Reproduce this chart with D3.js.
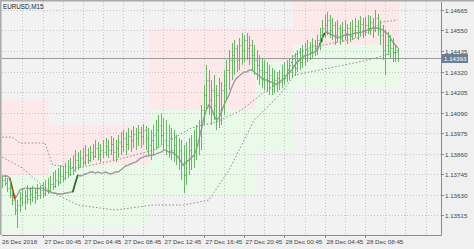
<!DOCTYPE html>
<html><head><meta charset="utf-8">
<script src="https://cdn.jsdelivr.net/npm/d3@7/dist/d3.min.js"></script>
<style>html,body{margin:0;padding:0;background:#f0f0f0;}svg{display:block;}</style>
</head><body>
<svg id="c" width="474" height="249"></svg>
<script>
const symbolTitle = "EURUSD,M15";
const timeTickBars = [0,16,32,48,64,80,96,112,128,144];
const timeTickLabels = ["26 Dec 2018","27 Dec 00:45","27 Dec 04:45","27 Dec 08:45","27 Dec 12:45","27 Dec 16:45","27 Dec 20:45","28 Dec 00:45","28 Dec 04:45","28 Dec 08:45"];
const priceTicks = [1.14665,1.14550,1.14435,1.14320,1.14205,1.14090,1.13975,1.13860,1.13745,1.13630,1.13515];
const lastPrice = 1.14393;

const high = [1.13734,1.13739,1.13722,1.13711,1.13655,1.13627,1.13599,1.13644,1.13666,1.13655,1.13683,1.13672,1.13678,1.13666,1.13689,1.13683,1.13700,1.13711,1.13722,1.13734,
1.13756,1.13767,1.13779,1.13795,1.13790,1.13807,1.13823,1.13835,1.13851,1.13879,1.13868,1.13879,1.13891,1.13908,1.13891,1.13902,1.13913,1.13936,1.13924,1.13913,
1.13936,1.13947,1.13936,1.13958,1.13947,1.13936,1.13964,1.13980,1.13992,1.13980,1.14003,1.13992,1.14014,1.14003,1.14020,1.14009,1.14025,1.14014,1.14003,1.13992,
1.14020,1.14048,1.14076,1.14087,1.14059,1.14048,1.14020,1.14003,1.13992,1.13964,1.13947,1.13936,1.13908,1.13924,1.13947,1.13964,1.13992,1.14020,1.14048,1.14132,
1.14244,1.14356,1.14328,1.14272,1.14300,1.14244,1.14283,1.14261,1.14328,1.14384,1.14440,1.14480,1.14497,1.14469,1.14508,1.14536,1.14525,1.14536,1.14519,1.14497,
1.14469,1.14440,1.14412,1.14396,1.14384,1.14373,1.14356,1.14340,1.14328,1.14317,1.14328,1.14356,1.14373,1.14384,1.14396,1.14412,1.14424,1.14440,1.14452,1.14469,
1.14480,1.14497,1.14485,1.14508,1.14497,1.14525,1.14564,1.14609,1.14637,1.14654,1.14637,1.14620,1.14598,1.14609,1.14581,1.14598,1.14609,1.14586,1.14598,1.14609,
1.14620,1.14609,1.14631,1.14620,1.14626,1.14637,1.14631,1.14620,1.14665,1.14643,1.14609,1.14581,1.14553,1.14541,1.14525,1.14508,1.14469,1.14452];
const low = [1.13666,1.13678,1.13644,1.13610,1.13571,1.13515,1.13442,1.13532,1.13565,1.13543,1.13577,1.13571,1.13588,1.13577,1.13599,1.13605,1.13610,1.13621,1.13633,1.13644,
1.13655,1.13666,1.13678,1.13689,1.13700,1.13711,1.13722,1.13734,1.13739,1.13756,1.13767,1.13779,1.13790,1.13795,1.13801,1.13812,1.13823,1.13835,1.13823,1.13812,
1.13835,1.13846,1.13835,1.13851,1.13823,1.13812,1.13835,1.13851,1.13868,1.13851,1.13879,1.13868,1.13891,1.13879,1.13902,1.13891,1.13908,1.13879,1.13851,1.13823,
1.13851,1.13879,1.13891,1.13908,1.13879,1.13851,1.13835,1.13823,1.13812,1.13795,1.13767,1.13711,1.13638,1.13683,1.13739,1.13767,1.13779,1.13823,1.13851,1.13879,
1.14020,1.14104,1.14076,1.14020,1.14048,1.13992,1.14003,1.14020,1.14076,1.14160,1.14216,1.14272,1.14300,1.14317,1.14328,1.14356,1.14373,1.14384,1.14356,1.14328,
1.14300,1.14272,1.14244,1.14227,1.14216,1.14205,1.14188,1.14188,1.14199,1.14205,1.14216,1.14227,1.14244,1.14261,1.14272,1.14283,1.14295,1.14317,1.14328,1.14340,
1.14351,1.14373,1.14384,1.14396,1.14407,1.14412,1.14440,1.14485,1.14508,1.14525,1.14508,1.14497,1.14469,1.14485,1.14469,1.14485,1.14497,1.14474,1.14485,1.14497,
1.14508,1.14497,1.14519,1.14508,1.14519,1.14530,1.14525,1.14508,1.14541,1.14519,1.14469,1.14384,1.14300,1.14412,1.14396,1.14373,1.14373,1.14373];
const open = [1.13689,1.13711,1.13694,1.13666,1.13627,1.13599,1.13543,1.13571,1.13610,1.13588,1.13621,1.13605,1.13633,1.13616,1.13644,1.13627,1.13655,1.13638,1.13666,1.13655,
1.13689,1.13678,1.13711,1.13700,1.13734,1.13722,1.13756,1.13745,1.13779,1.13767,1.13823,1.13795,1.13835,1.13812,1.13851,1.13823,1.13868,1.13846,1.13891,1.13857,
1.13879,1.13868,1.13902,1.13879,1.13913,1.13868,1.13891,1.13924,1.13902,1.13947,1.13913,1.13958,1.13936,1.13969,1.13947,1.13980,1.13958,1.13992,1.13947,1.13908,
1.13936,1.13964,1.13992,1.14020,1.13964,1.13936,1.13908,1.13947,1.13879,1.13908,1.13851,1.13879,1.13795,1.13739,1.13823,1.13879,1.13851,1.13936,1.13908,1.13992,
1.14104,1.14188,1.14272,1.14160,1.14216,1.14132,1.14188,1.14104,1.14216,1.14244,1.14328,1.14384,1.14412,1.14452,1.14384,1.14469,1.14440,1.14497,1.14452,1.14469,
1.14412,1.14384,1.14356,1.14328,1.14283,1.14317,1.14272,1.14300,1.14244,1.14272,1.14283,1.14261,1.14300,1.14283,1.14328,1.14317,1.14356,1.14340,1.14384,1.14373,
1.14412,1.14396,1.14440,1.14429,1.14469,1.14452,1.14497,1.14525,1.14564,1.14581,1.14609,1.14553,1.14581,1.14525,1.14564,1.14508,1.14553,1.14525,1.14564,1.14519,
1.14553,1.14575,1.14541,1.14586,1.14553,1.14581,1.14564,1.14598,1.14553,1.14620,1.14564,1.14525,1.14440,1.14469,1.14497,1.14452,1.14429,1.14440];
const close = [1.13711,1.13694,1.13666,1.13627,1.13599,1.13543,1.13571,1.13610,1.13588,1.13621,1.13605,1.13633,1.13616,1.13644,1.13627,1.13655,1.13638,1.13666,1.13655,1.13689,
1.13678,1.13711,1.13700,1.13734,1.13722,1.13756,1.13745,1.13779,1.13767,1.13823,1.13795,1.13835,1.13812,1.13851,1.13823,1.13868,1.13846,1.13891,1.13857,1.13879,
1.13868,1.13902,1.13879,1.13913,1.13868,1.13891,1.13924,1.13902,1.13947,1.13913,1.13958,1.13936,1.13969,1.13947,1.13980,1.13958,1.13992,1.13947,1.13908,1.13936,
1.13964,1.13992,1.14020,1.13964,1.13936,1.13908,1.13947,1.13879,1.13908,1.13851,1.13879,1.13795,1.13739,1.13823,1.13879,1.13851,1.13936,1.13908,1.13992,1.14104,
1.14188,1.14272,1.14160,1.14216,1.14132,1.14188,1.14104,1.14216,1.14244,1.14328,1.14384,1.14412,1.14452,1.14384,1.14469,1.14440,1.14497,1.14452,1.14469,1.14412,
1.14384,1.14356,1.14328,1.14283,1.14317,1.14272,1.14300,1.14244,1.14272,1.14283,1.14261,1.14300,1.14283,1.14328,1.14317,1.14356,1.14340,1.14384,1.14373,1.14412,
1.14396,1.14440,1.14429,1.14469,1.14452,1.14497,1.14525,1.14564,1.14581,1.14609,1.14553,1.14581,1.14525,1.14564,1.14508,1.14553,1.14525,1.14564,1.14519,1.14553,
1.14575,1.14541,1.14586,1.14553,1.14581,1.14564,1.14598,1.14553,1.14620,1.14564,1.14525,1.14440,1.14469,1.14497,1.14452,1.14429,1.14440,1.14393];

const trendLine = [1.13734,1.13734,1.13734,1.13722,1.13666,1.13605,1.13627,1.13655,1.13661,1.13666,1.13666,1.13661,1.13666,1.13666,1.13661,1.13666,1.13666,1.13655,1.13649,1.13644,
1.13638,1.13638,1.13633,1.13633,1.13633,1.13638,1.13638,1.13644,1.13644,1.13694,1.13739,1.13734,1.13739,1.13745,1.13750,1.13756,1.13756,1.13750,1.13756,1.13750,
1.13750,1.13756,1.13750,1.13745,1.13750,1.13756,1.13756,1.13767,1.13779,1.13790,1.13795,1.13801,1.13807,1.13812,1.13823,1.13835,1.13840,1.13846,1.13846,1.13851,
1.13851,1.13857,1.13863,1.13868,1.13879,1.13879,1.13868,1.13868,1.13863,1.13851,1.13835,1.13812,1.13795,1.13812,1.13823,1.13835,1.13846,1.13879,1.13936,1.13992,
1.14059,1.14104,1.14132,1.14115,1.14076,1.14048,1.14059,1.14093,1.14132,1.14160,1.14188,1.14227,1.14261,1.14283,1.14295,1.14306,1.14317,1.14317,1.14328,1.14328,
1.14317,1.14306,1.14295,1.14283,1.14272,1.14272,1.14261,1.14261,1.14250,1.14250,1.14261,1.14272,1.14283,1.14300,1.14317,1.14328,1.14351,1.14373,1.14384,1.14396,
1.14407,1.14412,1.14418,1.14424,1.14429,1.14440,1.14469,1.14508,1.14536,1.14541,1.14530,1.14525,1.14519,1.14508,1.14513,1.14519,1.14525,1.14530,1.14525,1.14530,
1.14536,1.14536,1.14541,1.14541,1.14547,1.14553,1.14558,1.14564,1.14564,1.14564,1.14558,1.14553,1.14541,1.14530,1.14508,1.14485,1.14469,1.14452];
const upSegments = [[28,30],[126,128]];
const downSegments = [[3,5]];

const band1Bars = [0,4,7,17,20,30,45,60,75,85,95,100,105,112,116,122,141,151,157];
const band1Vals = [1.13952,1.13952,1.13919,1.13919,1.13795,1.13779,1.13823,1.13879,1.14003,1.14037,1.14104,1.14160,1.14216,1.14272,1.14412,1.14452,1.14508,1.14598,1.14609];
const band2Bars = [0,8,18,30,45,60,72,82,90,100,110,116,130,145,152,157];
const band2Vals = [1.13840,1.13779,1.13655,1.13571,1.13543,1.13571,1.13571,1.13599,1.13767,1.14048,1.14188,1.14300,1.14340,1.14384,1.14412,1.14429];

const zoneFrom = [0,19,59,101,116];
const zoneTo = [18,58,100,115,157];
const zoneTop = [1.14160,1.14020,1.14564,1.14564,1.14710];
const zoneMid = [1.13739,1.13795,1.14104,1.14373,1.14469];
const zoneBottom = [1.13420,1.13459,1.13627,1.13879,1.14227];

const W = 474, H = 249;
const L = 2, R = 441, T = 2, B = 235;
const svg = d3.select("#c");
const font = "'Liberation Sans', Arial, sans-serif";

const x = d3.scaleLinear().domain([0, 157]).range([2.2, 2.2 + 2.52 * 157]);
const y = d3.scaleLinear().domain([1.13515, 1.14665]).range([215, 10]);
const step = 2.52;

svg.append("rect").attr("width", W).attr("height", H).attr("fill", "#f0f0f0");
svg.append("defs").append("clipPath").attr("id", "clip")
  .append("rect").attr("x", L).attr("y", T).attr("width", R - L).attr("height", B - T);
const plot = svg.append("g").attr("clip-path", "url(#clip)");
plot.append("rect").attr("x", L).attr("y", T).attr("width", R - L).attr("height", B - T).attr("fill", "#f2f2f2");

// zones
const zones = zoneFrom.map((f, k) => ({f, t: zoneTo[k], top: zoneTop[k], mid: zoneMid[k], bot: zoneBottom[k]}));
plot.selectAll("rect.pink").data(zones).join("rect").attr("class", "pink")
  .attr("x", d => x(d.f) - step / 2).attr("width", d => x(d.t) - x(d.f) + step)
  .attr("y", d => y(d.top)).attr("height", d => y(d.mid) - y(d.top)).attr("fill", "#fde9e9");
plot.selectAll("rect.green").data(zones).join("rect").attr("class", "green")
  .attr("x", d => x(d.f) - step / 2).attr("width", d => x(d.t) - x(d.f) + step)
  .attr("y", d => y(d.mid)).attr("height", d => y(d.bot) - y(d.mid)).attr("fill", "#e9fae9");

// grid
const gridBars = d3.range(8, 176, 8);
plot.selectAll("line.vg").data(gridBars).join("line")
  .attr("x1", d => Math.round(x(d)) + 0.5).attr("x2", d => Math.round(x(d)) + 0.5)
  .attr("y1", T).attr("y2", B).attr("stroke", "#c8c8c8").attr("stroke-dasharray", "1,2");
plot.selectAll("line.hg").data(priceTicks).join("line")
  .attr("x1", L).attr("x2", R)
  .attr("y1", d => Math.round(y(d)) + 0.5).attr("y2", d => Math.round(y(d)) + 0.5)
  .attr("stroke", "#c8c8c8").attr("stroke-dasharray", "1,2");

// last price line
plot.append("line").attr("x1", L).attr("x2", R)
  .attr("y1", Math.round(y(lastPrice)) + 0.5).attr("y2", Math.round(y(lastPrice)) + 0.5)
  .attr("stroke", "#9a9a9a").attr("stroke-width", 1);

// bands
const bandLine = d3.line().x(d => x(d[0])).y(d => y(d[1]));
[[band1Bars, band1Vals], [band2Bars, band2Vals]].forEach(([bs, vs]) => {
  plot.append("path").attr("d", bandLine(bs.map((b, k) => [b, vs[k]])))
    .attr("fill", "none").attr("stroke", "#8c8c8c").attr("stroke-width", 1).attr("stroke-dasharray", "1.5,2");
});

// trend line
const tl = d3.line().x((d, i) => x(i)).y(d => y(d));
plot.append("path").attr("d", tl(trendLine)).attr("fill", "none").attr("stroke", "#9c9c9c").attr("stroke-width", 1.4);
const segLine = d3.line().x(d => x(d[0])).y(d => y(d[1]));
upSegments.forEach(([a, b]) => {
  plot.append("path").attr("d", segLine(d3.range(a, b + 1).map(i => [i, trendLine[i]])))
    .attr("fill", "none").attr("stroke", "#1e6e1e").attr("stroke-width", 1.6);
});
downSegments.forEach(([a, b]) => {
  plot.append("path").attr("d", segLine(d3.range(a, b + 1).map(i => [i, trendLine[i]])))
    .attr("fill", "none").attr("stroke", "#d2321e").attr("stroke-width", 1.6);
});

// OHLC bars
const bars = plot.append("g").attr("stroke", "#57b057").attr("stroke-width", 0.9);
high.forEach((h, i) => {
  const cx = Math.round(x(i)) + 0.5;
  bars.append("line").attr("x1", cx).attr("x2", cx).attr("y1", y(h)).attr("y2", y(low[i]));
  bars.append("line").attr("x1", cx - 1).attr("x2", cx).attr("y1", Math.round(y(open[i])) + 0.5).attr("y2", Math.round(y(open[i])) + 0.5);
  bars.append("line").attr("x1", cx).attr("x2", cx + 1).attr("y1", Math.round(y(close[i])) + 0.5).attr("y2", Math.round(y(close[i])) + 0.5);
});

// frame
svg.append("rect").attr("x", 0).attr("y", 0).attr("width", W).attr("height", 1.5).attr("fill", "#a9a9a9");
svg.append("rect").attr("x", 0).attr("y", 0).attr("width", 1.5).attr("height", B).attr("fill", "#a9a9a9");
svg.append("line").attr("x1", R + 0.5).attr("x2", R + 0.5).attr("y1", T).attr("y2", B + 0.5).attr("stroke", "#8a8a8a");
svg.append("line").attr("x1", L).attr("x2", R + 0.5).attr("y1", B + 0.5).attr("y2", B + 0.5).attr("stroke", "#8a8a8a");

// title
svg.append("text").attr("x", 3).attr("y", 8.5).text(symbolTitle)
  .attr("font-family", font).attr("font-size", 6.3).attr("fill", "#222");

// right axis
const ra = svg.append("g");
priceTicks.forEach(p => {
  const yy = Math.round(y(p)) + 0.5;
  ra.append("line").attr("x1", R).attr("x2", R + 3).attr("y1", yy).attr("y2", yy).attr("stroke", "#8a8a8a");
  ra.append("text").attr("x", R + 4).attr("y", yy + 2.2).text(p.toFixed(5))
    .attr("font-family", font).attr("font-size", 6.2).attr("fill", "#444");
});
const ly = y(lastPrice);
ra.append("rect").attr("x", R + 1).attr("y", ly - 4.5).attr("width", 26).attr("height", 9).attr("fill", "#6a7e98");
ra.append("text").attr("x", R + 3).attr("y", ly + 2.2).text(lastPrice.toFixed(5))
  .attr("font-family", font).attr("font-size", 6.2).attr("fill", "#ffffff");

// bottom axis
timeTickBars.forEach((b, k) => {
  const xx = Math.round(x(b)) + 0.5;
  if (k > 0) svg.append("line").attr("x1", xx).attr("x2", xx).attr("y1", B).attr("y2", B + 3).attr("stroke", "#8a8a8a");
  svg.append("text").attr("x", k > 0 ? xx + 1 : 2).attr("y", 243.5).text(timeTickLabels[k])
    .attr("font-family", font).attr("font-size", 6.2).attr("fill", "#444");
});
</script>
</body></html>
